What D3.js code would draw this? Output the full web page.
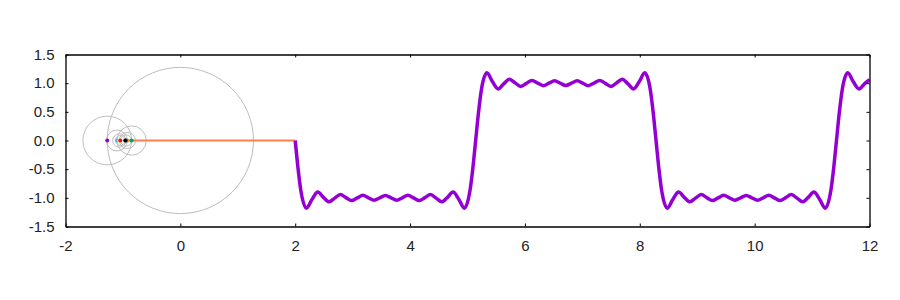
<!DOCTYPE html>
<html>
<head>
<meta charset="utf-8">
<script src="https://cdn.jsdelivr.net/npm/d3@7"></script>
<style>
  html, body { margin: 0; padding: 0; background: #fff; }
  svg { display: block; }
  text { font-family: "Liberation Sans", Arial, sans-serif; font-size: 15px; fill: #222; }
</style>
</head>
<body>
<svg id="chart" width="900" height="300"></svg>
<script>
// Axis ticks
const xTicks = [-2, 0, 2, 4, 6, 8, 10, 12];
const yTicks = [-1.5, -1.0, -0.5, 0.0, 0.5, 1.0, 1.5];

// Epicycles: circle centres (on y = 0) and radii
const circleCenters = [0, -1.273, -0.849, -1.104, -0.922, -1.063, -0.947, -1.045];
const circleRadii   = [1.273, 0.424, 0.255, 0.182, 0.141, 0.116, 0.098, 0.085];

// Joint dots (on y = 0) and their colours
const dotX      = [-1.273, -0.849, -1.104, -0.922, -1.063, -0.947, -1.045, -0.960];
const dotColors = ["#9400D3", "#009E73", "#56B4E9", "#E69F00", "#F0E442", "#0072B2", "#E51E10", "#000000"];

// Connector line from tip to start of the trace
const linkX = [-0.960, 2.0];
const linkY = [0, 0];

// Traced wave
const curveX = [
  2.000, 2.049, 2.098, 2.196, 2.295, 2.393, 2.491, 2.589, 2.687, 2.785, 2.884, 2.982, 3.080, 3.178, 3.276, 3.374, 3.473,
  3.571, 3.669, 3.767, 3.865, 3.963, 4.062, 4.160, 4.258, 4.356, 4.454, 4.553, 4.651, 4.749, 4.847, 4.945, 5.043, 5.093, 5.142,
  5.191, 5.240, 5.338, 5.436, 5.534, 5.633, 5.731, 5.829, 5.927, 6.025, 6.123, 6.222, 6.320, 6.418, 6.516, 6.614,
  6.712, 6.811, 6.909, 7.007, 7.105, 7.203, 7.301, 7.400, 7.498, 7.596, 7.694, 7.792, 7.891, 7.989, 8.087, 8.185, 8.234, 8.283,
  8.332, 8.381, 8.480, 8.578, 8.676, 8.774, 8.872, 8.970, 9.069, 9.167, 9.265, 9.363, 9.461, 9.560, 9.658, 9.756,
  9.854, 9.952, 10.050, 10.149, 10.247, 10.345, 10.443, 10.541, 10.639, 10.738, 10.836, 10.934, 11.032, 11.130, 11.228, 11.327, 11.376, 11.425,
  11.474, 11.523, 11.621, 11.719, 11.818, 11.916, 12.000
];
const curveY = [
  0, -0.483, -0.873, -1.180, -1.023, -0.900, -0.991, -1.070, -1.005, -0.944, -0.997, -1.048, -1.001, -0.957, -0.999, -1.040, -1.000,
  -0.960, -1.000, -1.040, -0.999, -0.957, -1.001, -1.048, -0.997, -0.944, -1.005, -1.070, -0.991, -0.900, -1.023, -1.180, -0.873, -0.483, 0,
  0.483, 0.873, 1.180, 1.023, 0.900, 0.991, 1.070, 1.005, 0.944, 0.997, 1.048, 1.001, 0.957, 0.999, 1.040, 1.000,
  0.960, 1.000, 1.040, 0.999, 0.957, 1.001, 1.048, 0.997, 0.944, 1.005, 1.070, 0.991, 0.900, 1.023, 1.180, 0.873, 0.483, 0,
  -0.483, -0.873, -1.180, -1.023, -0.900, -0.991, -1.070, -1.005, -0.944, -0.997, -1.048, -1.001, -0.957, -0.999, -1.040, -1.000,
  -0.960, -1.000, -1.040, -0.999, -0.957, -1.001, -1.048, -0.997, -0.944, -1.005, -1.070, -0.991, -0.900, -1.023, -1.180, -0.873, -0.483, 0,
  0.483, 0.873, 1.180, 1.023, 0.900, 0.991, 1.060
];

const svg = d3.select("#chart");
const x = d3.scaleLinear().domain([-2, 12]).range([65.5, 869.5]);
const y = d3.scaleLinear().domain([-1.5, 1.5]).range([226.5, 54.5]);
const pxPerUnit = x(1) - x(0);

// Circles
svg.append("g").selectAll("circle").data(circleCenters).join("circle")
  .attr("cx", d => x(d)).attr("cy", y(0))
  .attr("r", (d, i) => circleRadii[i] * pxPerUnit)
  .attr("fill", "none").attr("stroke", "#bdbdbd").attr("stroke-width", 1);

// Connector line
svg.append("path")
  .datum(linkX.map((d, i) => [d, linkY[i]]))
  .attr("d", d3.line().x(d => x(d[0])).y(d => y(d[1])))
  .attr("fill", "none").attr("stroke", "#FF7F50").attr("stroke-width", 2);

// Wave
svg.append("path")
  .datum(curveX.map((d, i) => [d, curveY[i]]))
  .attr("d", d3.line().x(d => x(d[0])).y(d => y(d[1])).curve(d3.curveMonotoneX))
  .attr("fill", "none").attr("stroke", "#9400D3").attr("stroke-width", 3.5)
  .attr("stroke-linejoin", "round");

// Dots
svg.append("g").selectAll("circle").data(dotX).join("circle")
  .attr("cx", d => x(d)).attr("cy", y(0)).attr("r", 2)
  .attr("fill", (d, i) => dotColors[i]);

// Axes (ticks inward, mirrored)
const axG = svg.append("g");
const tickLen = 3;
axG.append("g").attr("transform", `translate(0,${y(-1.5)})`)
  .call(d3.axisBottom(x).tickValues(xTicks).tickSizeInner(-tickLen).tickSizeOuter(0).tickPadding(14).tickFormat(d3.format("d")));
axG.append("g").attr("transform", `translate(0,${y(1.5)})`)
  .call(d3.axisTop(x).tickValues(xTicks).tickSizeInner(-tickLen).tickSizeOuter(0).tickFormat(""));
axG.append("g").attr("transform", `translate(${x(-2)},0)`)
  .call(d3.axisLeft(y).tickValues(yTicks).tickSizeInner(-tickLen).tickSizeOuter(0).tickPadding(11).tickFormat(d3.format(".1f")));
axG.append("g").attr("transform", `translate(${x(12)},0)`)
  .call(d3.axisRight(y).tickValues(yTicks).tickSizeInner(-tickLen).tickSizeOuter(0).tickFormat(""));
axG.selectAll(".domain").attr("stroke", "#000").attr("stroke-width", 1.3);
axG.selectAll(".tick line").attr("stroke", "#000");
axG.selectAll("text").attr("font-family", "Liberation Sans, Arial, sans-serif").attr("font-size", 15).attr("fill", "#222")
  .text(function() { return this.textContent.replace("\u2212", "-"); });
</script>
</body>
</html>
